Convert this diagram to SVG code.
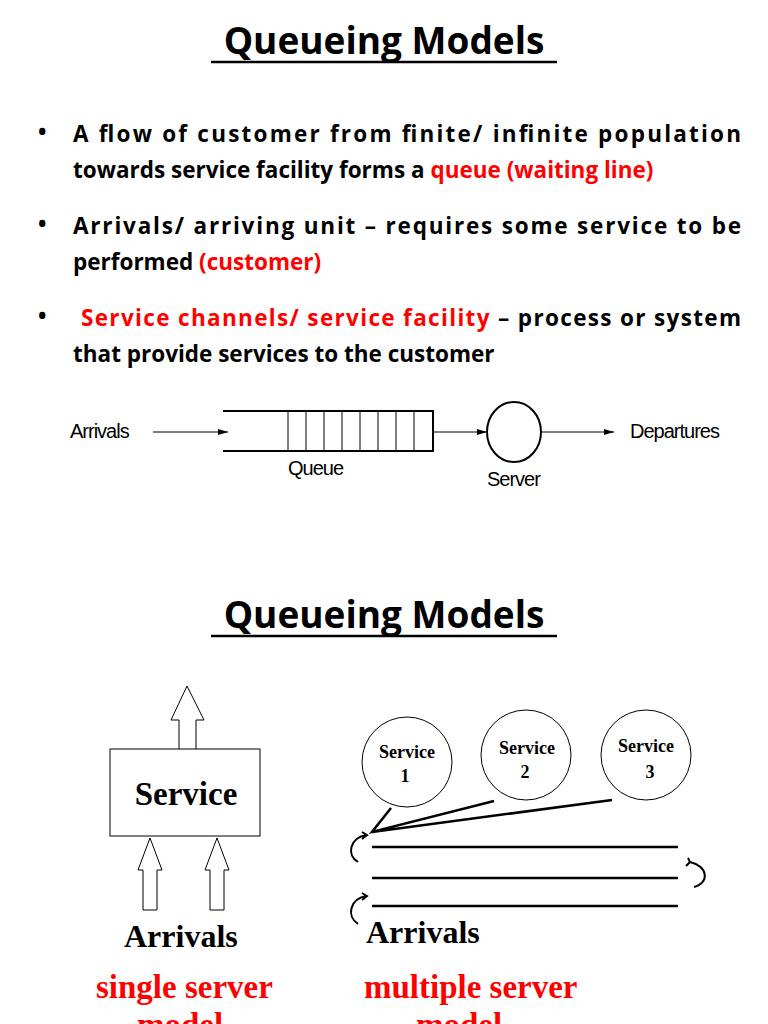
<svg xmlns="http://www.w3.org/2000/svg" width="768" height="1024" viewBox="0 0 768 1024">
<style>
.t{font-family:"Open Sans","Liberation Sans",Arial,sans-serif;font-weight:bold;font-size:22.5px;fill:#000}
.r{fill:#ff0000}
.h{font-family:"Open Sans","Liberation Sans",sans-serif;font-weight:bold;font-size:37px;text-anchor:middle}
.n{font-family:"Liberation Sans",Arial,sans-serif;font-size:20px;letter-spacing:-1px}
.s{font-family:"Liberation Serif","Times New Roman",serif;font-weight:bold}
.ln{stroke:#000;fill:none}
</style>
<defs><marker id="a" markerWidth="10" markerHeight="8" refX="10" refY="4" orient="auto" markerUnits="userSpaceOnUse"><path d="M0,1 L10,4 L0,7z"/></marker></defs>
<rect width="768" height="1024" fill="#fff"/>
<text class="h" x="384" y="54">Queueing Models</text>
<line x1="211" y1="62" x2="557" y2="62" stroke="#000" stroke-width="2.5"/>
<g class="t">
<text x="38" y="140">•</text><text x="38" y="232">•</text><text x="38" y="324">•</text>
<text x="73" y="142" textLength="668" lengthAdjust="spacing">A flow of customer from finite/ infinite population</text>
<text x="73" y="178">towards service facility forms a <tspan class="r">queue (waiting line)</tspan></text>
<text x="73" y="234" textLength="668" lengthAdjust="spacing">Arrivals/ arriving unit – requires some service to be</text>
<text x="73" y="270">performed <tspan class="r">(customer)</tspan></text>
<text x="81" y="326" textLength="660" lengthAdjust="spacing"><tspan class="r">Service channels/ service facility</tspan> – process or system</text>
<text x="73" y="362">that provide services to the customer</text>
</g>
<g id="queue">
<path class="ln" d="M223,411 H433 V451 H223" stroke-width="2"/>
<path class="ln" d="M288,411V451M306,411V451M324,411V451M342,411V451M360,411V451M378,411V451M396,411V451M414,411V451"/>
<text class="n" x="288" y="475">Queue</text>
</g>
<g id="server"><ellipse cx="514" cy="432" rx="27" ry="30" class="ln" stroke-width="2"/><text class="n" x="487" y="486">Server</text></g>
<text class="n" x="70" y="438">Arrivals</text>
<text class="n" x="630" y="438">Departures</text>
<g id="connectors1" class="ln">
<line x1="153" y1="432" x2="228" y2="432" marker-end="url(#a)"/>
<line x1="433" y1="432" x2="487" y2="432" marker-end="url(#a)"/>
<line x1="541" y1="432" x2="614" y2="432" marker-end="url(#a)"/>
</g>
<text class="h" x="384" y="628">Queueing Models</text>
<line x1="211" y1="636" x2="557" y2="636" stroke="#000" stroke-width="2.5"/>
<g id="service">
<rect x="110" y="749" width="150" height="87" class="ln"/>
<text class="s" x="186" y="805" font-size="33" text-anchor="middle">Service</text>
</g>
<g id="arrows-single" class="ln">
<path d="M179,749V720H171L187,686L204,720H196V749"/>
<path d="M143,910V870H138L150,838L162,870H157V910Z"/>
<path d="M210,910V870H205L217,838L229,870H224V910Z"/>
</g>
<text class="s" x="124" y="947" font-size="32">Arrivals</text>
<text class="s r" x="96" y="998" font-size="33">single server</text>
<text class="s r" x="137" y="1036" font-size="33">model</text>
<g id="s1"><circle cx="407" cy="762" r="45" class="ln"/><text class="s" font-size="18" text-anchor="middle" x="407" y="758">Service</text><text class="s" font-size="18" text-anchor="middle" x="405" y="782">1</text></g>
<g id="s2"><circle cx="526" cy="755" r="45" class="ln"/><text class="s" font-size="18" text-anchor="middle" x="527" y="754">Service</text><text class="s" font-size="18" text-anchor="middle" x="525" y="778">2</text></g>
<g id="s3"><circle cx="646" cy="755" r="45" class="ln"/><text class="s" font-size="18" text-anchor="middle" x="646" y="752">Service</text><text class="s" font-size="18" text-anchor="middle" x="650" y="778">3</text></g>
<g id="connectors2" class="ln" stroke-width="2.5">
<path d="M391,808L372,832L494,801M372,832L612,800"/>
<path d="M372,847H678M372,878H678M372,906H678"/>
<path d="M366,835 C350,838 346,855 358,862 M362,832 L367,835 L362,839" stroke-width="2"/>
<path d="M366,896 C350,899 346,916 358,924 M362,893 L367,896 L362,900" stroke-width="2"/>
<path d="M690,862 C708,866 710,883 694,887 M688,858 L690,862 L686,866" stroke-width="2"/>
</g>
<text class="s" x="366" y="943" font-size="32">Arrivals</text>
<text class="s r" x="364" y="998" font-size="33">multiple server</text>
<text class="s r" x="416" y="1036" font-size="33">model</text>
</svg>
